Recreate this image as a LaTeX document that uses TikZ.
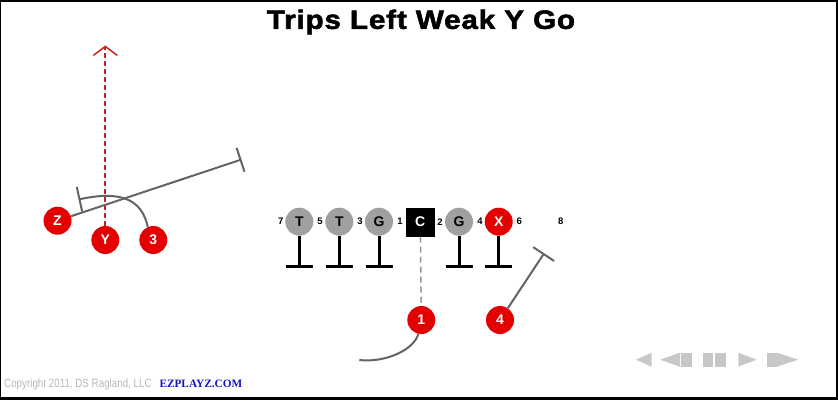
\documentclass[tikz,border=0pt]{standalone}
\usepackage{fontspec}
\usepackage{graphicx}
\setmainfont{Liberation Sans}
\newfontfamily\titlefont{Liberation Sans Bold}[FakeStretch=1.12,LetterSpace=3,FakeBold=2]
\newfontfamily\copyfont{Liberation Sans}
\newfontfamily\ezfont{Liberation Serif Bold}
\usetikzlibrary{arrows.meta}
\definecolor{ezred}{RGB}{228,0,0}
\definecolor{ezgray}{RGB}{160,160,160}
\definecolor{routegray}{RGB}{100,100,100}
\definecolor{navgray}{RGB}{200,200,200}
\definecolor{ezblue}{RGB}{20,20,200}
\definecolor{copygray}{RGB}{185,185,185}
\definecolor{dashred}{RGB}{210,30,30}
\definecolor{dashgray}{RGB}{150,150,150}
\tikzset{
  player/.style={circle, minimum size=28pt, inner sep=0pt, font=\bfseries\fontsize{14}{14}\selectfont},
  offense/.style={player, fill=ezred, text=white},
  lineman/.style={player, fill=ezgray, text=black},
  centerbox/.style={rectangle, minimum size=29pt, inner sep=0pt, fill=black, text=white, font=\bfseries\fontsize{14}{14}\selectfont},
  gaplabel/.style={font=\bfseries\fontsize{9.5}{9.5}\selectfont, inner sep=0pt},
  blockline/.style={line width=3pt, draw=black},
  routeline/.style={line width=2pt, draw=routegray},
  tbar/.style={-{Bar[width=25pt]}},
  goline/.style={line width=2pt, draw=dashred, dash pattern=on 5pt off 3pt, -{Straight Barb[length=9pt,width=24pt,line width=1.5pt]}},
  snapline/.style={line width=1.5pt, draw=dashgray, dash pattern=on 6pt off 4pt},
  navicon/.style={fill=navgray},
}
\begin{document}
\begin{tikzpicture}[x=1pt,y=-1pt]
\useasboundingbox (0,0) rectangle (838,400);
% frame
\fill[black] (0,0) rectangle (838,400);
\fill[white] (1,2) rectangle (836,397);

% title
\node[inner sep=0pt] (title) at (421,22) {\titlefont\fontsize{26.5}{26.5}\selectfont Trips Left Weak Y Go};

% offensive line
\node[lineman] (LT) at (299.3,221.7) {T};
\node[lineman] (RT) at (339.3,221.7) {T};
\node[lineman] (LG) at (379,221.7) {G};
\node[centerbox] (C) at (420.3,222) {C};
\node[lineman] (RG) at (459,221.7) {G};
\node[offense] (X) at (498.7,221.7) {X};

% gap numbers
\node[gaplabel] (g7) at (280.7,221.7) {7};
\node[gaplabel] (g5) at (320,221.7) {5};
\node[gaplabel] (g3) at (360,221.7) {3};
\node[gaplabel] (g1) at (400,221.7) {1};
\node[gaplabel] (g2) at (440,221.7) {2};
\node[gaplabel] (g4) at (480,221.7) {4};
\node[gaplabel] (g6) at (519.3,221.7) {6};
\node[gaplabel] (g8) at (560.7,221.7) {8};

% backs and receivers
\node[offense] (Z) at (57.5,220.7) {Z};
\node[offense] (Y) at (105.3,240) {Y};
\node[offense] (n3) at (153.3,240) {3};
\node[offense] (n1) at (421.3,320) {1};
\node[offense] (n4) at (500,320) {4};

% blocks
\foreach \p/\x in {LT/299.3, RT/339.3, LG/379, RG/459, X/498.7}{
  \coordinate (b\p) at (\x,266.7);
  \draw[blockline] (\p) -- (b\p);
  \draw[blockline] ([xshift=-13.5pt]b\p) -- ([xshift=13.5pt]b\p);
}

% snap
\draw[snapline] (C) -- (n1);

% Y go route
\coordinate (yend) at (105.3,45.5);
\draw[goline] (Y) -- (yend);

% Z route
\coordinate (zend) at (241.5,159.5);
\draw[routeline, tbar] (Z) -- (zend);

% 3 route
\coordinate (tend) at (78.5,199.5);
\draw[routeline, tbar] (n3.113) .. controls (142,200) and (122,190) .. (tend);

% 1 route
\coordinate (oneend) at (359.3,360);
\draw[routeline] (n1.258) .. controls (414,350) and (385,363) .. (oneend);

% 4 route
\coordinate (fend) at (544.2,253.2);
\draw[routeline, tbar] (n4) -- (fend);

% navigation icons
\fill[navgray] (636,359.7) -- (651.7,352.7) -- (651.7,366.7) -- cycle;
\fill[navgray] (660,359.7) -- (680,352.7) -- (680,366.7) -- cycle;
\fill[navgray] (681,352.7) rectangle (691.7,366.7);
\fill[navgray] (702.7,352.7) rectangle (713.3,366.7);
\fill[navgray] (715,352.7) rectangle (726,366.7);
\fill[navgray] (738.3,352.7) -- (756.7,359.7) -- (738.3,366.7) -- cycle;
\fill[navgray] (766.7,352.7) rectangle (776.7,366.7);
\fill[navgray] (776.7,352.7) -- (798.3,359.7) -- (776.7,366.7) -- cycle;

% footer
\node[inner sep=0pt, anchor=west, text=copygray] (copy) at (4,384) {\resizebox{147.5pt}{\height}{\copyfont\fontsize{12}{12}\selectfont Copyright 2011, DS Ragland, LLC}};
\node[inner sep=0pt, anchor=west, text=ezblue] (ez) at (159.3,384) {\ezfont\fontsize{11.3}{11.3}\selectfont EZPLAYZ.COM};
\end{tikzpicture}
\end{document}
